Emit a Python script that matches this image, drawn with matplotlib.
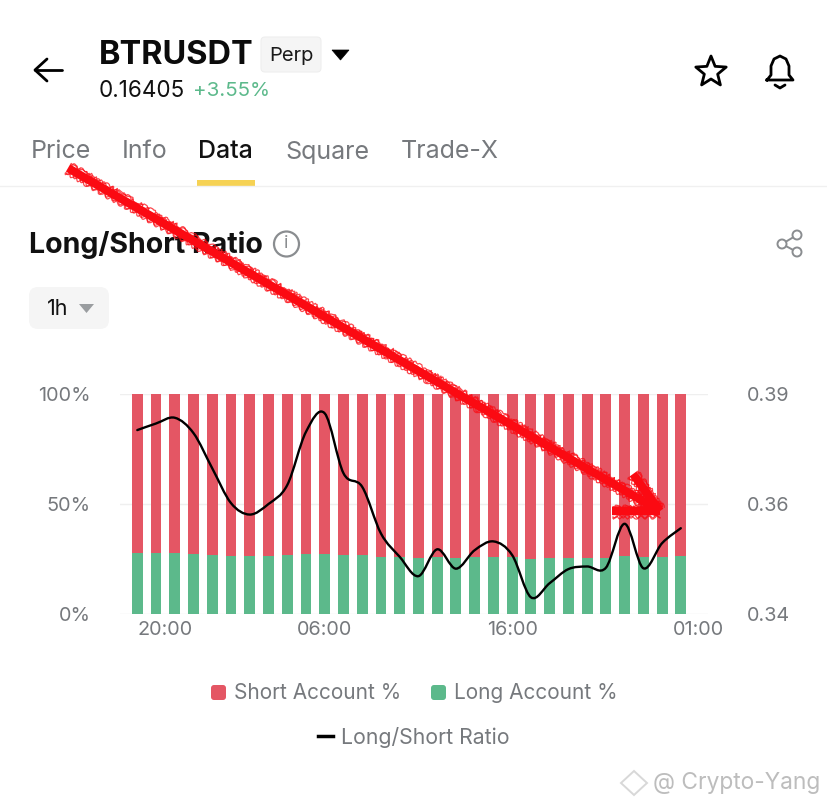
import numpy as np
import matplotlib
matplotlib.use("Agg")
import matplotlib.pyplot as plt
from matplotlib.path import Path
from matplotlib.patches import PathPatch, FancyBboxPatch, Circle, Polygon

plt.rcParams['font.family'] = ['Inter', 'DejaVu Sans']

# values, one per hour
long_pct = [27.6, 27.6, 27.6, 27.5, 27.0, 26.5, 26.4, 26.5, 26.7, 27.5,
            27.5, 27.0, 26.7, 26.1, 25.8, 25.4, 25.7, 25.6, 25.8, 26.1,
            26.1, 25.0, 25.4, 25.5, 25.6, 25.6, 26.4, 26.1, 26.1, 26.2]
short_pct = [100 - v for v in long_pct]
ratio = [.3818, .3833, .3846, .3811, .3731, .3652, .3626, .3650, .3693, .3814,
         .3856, .3720, .3689, .3583, .3530, .3486, .3547, .3503, .3545, .3565,
         .3534, .3438, .3470, .3502, .3508, .3505, .3605, .3504, .3561, .3595]
x_ticks = [1.48, 10, 20, 29.96]
x_labels = ['20:00', '06:00', '16:00', '01:00']
left_ticks = [0, 50, 100]
left_labels = ['0%', '50%', '100%']
right_ticks = [.34, .365, .39]
right_labels = ['0.34', '0.36', '0.39']
tabs = ['Price', 'Info', 'Data', 'Square', 'Trade-X']
tab_x = [31, 122, 198, 285, 401]

RED = '#e45664'
GREEN = '#5cb98b'
GREY = '#76797d'

W, H = 828, 808
fig = plt.figure(figsize=(W / 100, H / 100), dpi=100, facecolor='white')


def box(l, t, r, b):
    return [l / W, 1 - b / H, (r - l) / W, (b - t) / H]


# the chart
ax = fig.add_axes(box(120, 394, 708, 614))
xs = np.arange(len(long_pct))
ax.bar(xs, long_pct, width=0.58, color=GREEN, zorder=2)
ax.bar(xs, short_pct, width=0.58, bottom=long_pct, color=RED, zorder=2)
ax.set_xlim(-0.923, 30.45)
ax.set_ylim(0, 100)
ax.set_yticks(left_ticks, left_labels)
ax.set_xticks(x_ticks, x_labels)
ax.tick_params(axis='both', length=0, labelsize=14.3, labelcolor=GREY)
ax.tick_params(axis='y', pad=21)
ax.tick_params(axis='x', pad=5)
ax.grid(axis='y', color='#efefef', lw=1, zorder=0)
for s in ax.spines.values():
    s.set_visible(False)

ax2 = ax.twinx()
ax2.set_ylim(.34, .39)
ax2.set_yticks(right_ticks, right_labels)
ax2.tick_params(axis='y', length=0, labelsize=14.3, labelcolor=GREY, pad=28)
for s in ax2.spines.values():
    s.set_visible(False)

# smooth line through the hourly values, as bezier segments
pts = np.column_stack([xs, ratio])
verts = [pts[0]]
codes = [Path.MOVETO]
for i in range(len(pts) - 1):
    p0 = pts[max(i - 1, 0)]
    p1, p2 = pts[i], pts[i + 1]
    p3 = pts[min(i + 2, len(pts) - 1)]
    verts += [p1 + (p2 - p0) / 6, p2 - (p3 - p1) / 6, p2]
    codes += [Path.CURVE4] * 3
ax2.add_patch(PathPatch(Path(verts, codes), fc='none', ec='black', lw=1.7, capstyle='round'))

# everything around the chart, in pixels
ui = fig.add_axes([0, 0, 1, 1], zorder=5)
ui.set_xlim(0, W)
ui.set_ylim(H, 0)
ui.axis('off')
ui.patch.set_alpha(0)

# header
ui.plot([35, 62], [70, 70], color='black', lw=2, solid_capstyle='round')
ui.plot([47, 35, 47], [59, 70, 81], color='black', lw=2, solid_capstyle='round', solid_joinstyle='round')
ui.text(99, 56, 'BTRUSDT', fontsize=23.4, fontweight='bold', color='#0b0b0b', va='center')
ui.add_patch(FancyBboxPatch((261, 37), 60, 35, boxstyle='round,pad=0,rounding_size=4', fc='#f5f5f5', ec='#eeeeee', lw=0.8))
ui.text(291, 56, 'Perp', fontsize=14.5, color='#1a1a1a', ha='center', va='center')
ui.add_patch(Polygon([[332, 50], [349, 50], [340.5, 60]], fc='black', ec='black', lw=0.5))
ui.text(99, 91, '0.16405', fontsize=16.2, color='#111111', va='center')
ui.text(193, 91, '+3.55%', fontsize=14.8, color=GREEN, va='center')

# star and bell
ang = np.pi / 2 + np.arange(10) * np.pi / 5
rad = np.where(np.arange(10) % 2 == 0, 16, 7)
ui.add_patch(Polygon(np.column_stack([711 + rad * np.cos(ang), 72 - rad * np.sin(ang)]), fc='none', ec='black', lw=2, joinstyle='round'))
bell_x = [767, 771, 771, 774, 780, 786, 789, 789, 793, 767]
bell_y = [80, 75, 66, 59, 56, 59, 66, 75, 80, 80]
ui.plot(bell_x, bell_y, color='black', lw=2, solid_joinstyle='round')
ui.plot([775, 780, 785], [85, 88, 85], color='black', lw=2, solid_capstyle='round')

# tabs
for name, tx in zip(tabs, tab_x):
    active = name == 'Data'
    ui.text(tx, 152, name, fontsize=18, color='#111111' if active else GREY,
            fontweight='medium' if active else 'normal', va='center')
ui.plot([0, W], [186, 186], color='#f0f0f0', lw=1)
ui.add_patch(plt.Rectangle((197, 180), 58, 6, fc='#f6d254', ec='none'))

# title row
ui.text(29, 245, 'Long/Short Ratio', fontsize=20.5, fontweight='bold', color='#111111', va='center')
ui.add_patch(Circle((286.5, 244), 12.5, fc='none', ec='#8a8d90', lw=1.6))
ui.text(286.5, 244, 'i', fontsize=13, color='#8a8d90', ha='center', va='center')
share = [(797, 235), (782, 244), (797, 252)]
ui.plot(*zip(*share), color='#8a8d90', lw=1.4)
for p in share:
    ui.add_patch(Circle(p, 4.5, fc='white', ec='#8a8d90', lw=1.4, zorder=3))

ui.add_patch(FancyBboxPatch((29, 287), 80, 42, boxstyle='round,pad=0,rounding_size=9', fc='#f5f5f5', ec='none'))
ui.text(58, 309, '1h', fontsize=15.5, color='#111111', ha='center', va='center')
ui.add_patch(Polygon([[79, 304], [94, 304], [86.5, 313]], fc='#9a9da0', ec='none'))

# legend
ui.add_patch(FancyBboxPatch((211, 685), 15, 15, boxstyle='round,pad=0,rounding_size=3', fc=RED, ec='none'))
ui.text(234, 693, 'Short Account %', fontsize=15, color=GREY, va='center')
ui.add_patch(FancyBboxPatch((431, 685), 15, 15, boxstyle='round,pad=0,rounding_size=3', fc=GREEN, ec='none'))
ui.text(454, 693, 'Long Account %', fontsize=15, color=GREY, va='center')
ui.plot([318, 333], [736, 736], color='black', lw=2.5)
ui.text(341, 737, 'Long/Short Ratio', fontsize=15.3, color=GREY, va='center')

# watermark
ui.add_patch(Polygon([[634, 771], [647, 783], [634, 795], [621, 783]], fc='none', ec='#d8d8d8', lw=1.4))
ui.text(653, 783, '@ Crypto-Yang', fontsize=16.4, color='#bdbdbd', va='center')

# hand drawn red arrow: solid core, rough thin strokes round it
for seg in ([(68, 168), (660, 511)], [(633, 474), (660, 511)], [(612, 511), (660, 511)]):
    (x0, y0), (x1, y1) = seg
    d = np.array([y1 - y0, x0 - x1], dtype=float)
    d /= np.hypot(*d)
    ui.plot([x0, x1], [y0, y1], color='#fb0a12', lw=6, solid_capstyle='butt', zorder=6)
    for off in (-5.5, -4.5, 4.5, 5.5):
        ln, = ui.plot([x0 + d[0] * off, x1 + d[0] * off], [y0 + d[1] * off, y1 + d[1] * off],
                      color='#fb0a12', lw=0.9, alpha=0.75, solid_capstyle='butt', zorder=6)
        ln.set_sketch_params(scale=1.6, length=8, randomness=6 + off)

fig.savefig('out.png', dpi=100)
